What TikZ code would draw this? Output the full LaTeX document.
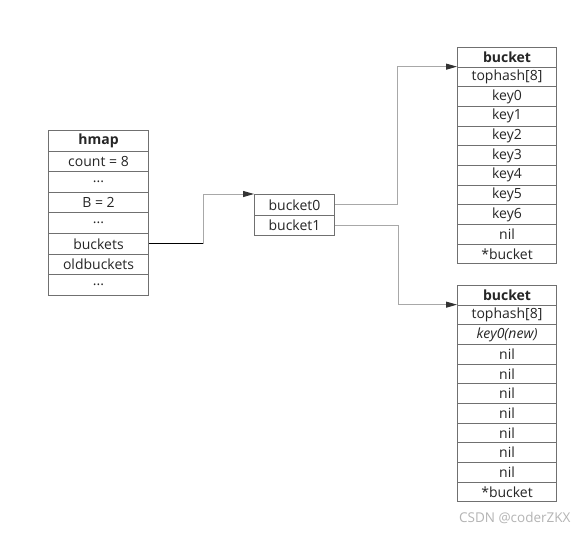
\documentclass[tikz,border=0pt]{standalone}
\usepackage{fontspec}
\setmainfont{Open Sans}
\usetikzlibrary{arrows.meta,calc}
\definecolor{boxline}{HTML}{707070}
\definecolor{wire}{HTML}{A8A8A8}
\definecolor{tipc}{HTML}{333333}
\definecolor{wm}{HTML}{B4B4B4}
\tikzset{
  cell/.style={draw=boxline, line width=1pt, minimum height=#1, inner sep=0pt,
    anchor=north west, font=\fontsize{14}{16}\selectfont, text=black!85},
  hcell/.style={cell=20.6pt, minimum width=100pt},
  bcell/.style={cell=19.65pt, minimum width=99pt},
  scell/.style={cell=20.5pt, minimum width=80pt},
  wireline/.style={draw=wire, line width=1pt},
  arr/.style={-{Triangle[length=11pt,width=6pt,fill=tipc,color=tipc]}}
}
\begin{document}
\begin{tikzpicture}[x=1pt,y=-1pt]
\useasboundingbox[fill=white] (0,0) rectangle (588,533);
% hmap
\node[hcell] (h0) at (48,130.0) {\textbf{hmap}};
\node[hcell] (h1) at (48,150.6) {count = 8};
\node[hcell] (h2) at (48,171.2) {...};
\node[hcell] (h3) at (48,191.8) {B = 2};
\node[hcell] (h4) at (48,212.4) {...};
\node[hcell] (h5) at (48,233.0) {buckets};
\node[hcell] (h6) at (48,253.6) {oldbuckets};
\node[hcell] (h7) at (48,274.2) {...};
% bucket array
\node[scell] (s0) at (254,194.0) {bucket0};
\node[scell] (s1) at (254,214.5) {bucket1};
% first bucket
\node[bcell] (a0)  at (457,47.0)  {\textbf{bucket}};
\node[bcell] (a1)  at (457,66.65) {tophash[8]};
\node[bcell] (a2)  at (457,86.3)  {key0};
\node[bcell] (a3)  at (457,105.95) {key1};
\node[bcell] (a4)  at (457,125.6) {key2};
\node[bcell] (a5)  at (457,145.25) {key3};
\node[bcell] (a6)  at (457,164.9) {key4};
\node[bcell] (a7)  at (457,184.55) {key5};
\node[bcell] (a8)  at (457,204.2) {key6};
\node[bcell] (a9)  at (457,223.85) {nil};
\node[bcell] (a10) at (457,243.5) {*bucket};
% second bucket
\node[bcell] (b0)  at (457,285.0)  {\textbf{bucket}};
\node[bcell] (b1)  at (457,304.65) {tophash[8]};
\node[bcell] (b2)  at (457,324.3)  {\textit{key0(new)}};
\node[bcell] (b3)  at (457,343.95) {nil};
\node[bcell] (b4)  at (457,363.6)  {nil};
\node[bcell] (b5)  at (457,383.25) {nil};
\node[bcell] (b6)  at (457,402.9)  {nil};
\node[bcell] (b7)  at (457,422.55) {nil};
\node[bcell] (b8)  at (457,442.2)  {nil};
\node[bcell] (b9)  at (457,461.85) {nil};
\node[bcell] (b10) at (457,481.5)  {*bucket};
% connectors
\coordinate (k1) at ($(h5.east)+(54,0)$);
\draw[line width=1pt, black] (h5.east) -- (k1);
\draw[wireline, arr] (k1) |- (s0.north west);
\coordinate (k2) at ($(s0.east)+(62,0)$);
\draw[wireline, arr] (s0.east) -- (k2) |- (a1.north west);
\coordinate (k3) at ($(s1.east)+(63,0)$);
\draw[wireline, arr] (s1.east) -- (k3) |- (b1.north west);
% watermark
\node[font=\fontsize{13.5}{15}\selectfont, text=wm, anchor=east] (wmk) at (574,518) {CSDN @coderZKX};
\end{tikzpicture}
\end{document}
